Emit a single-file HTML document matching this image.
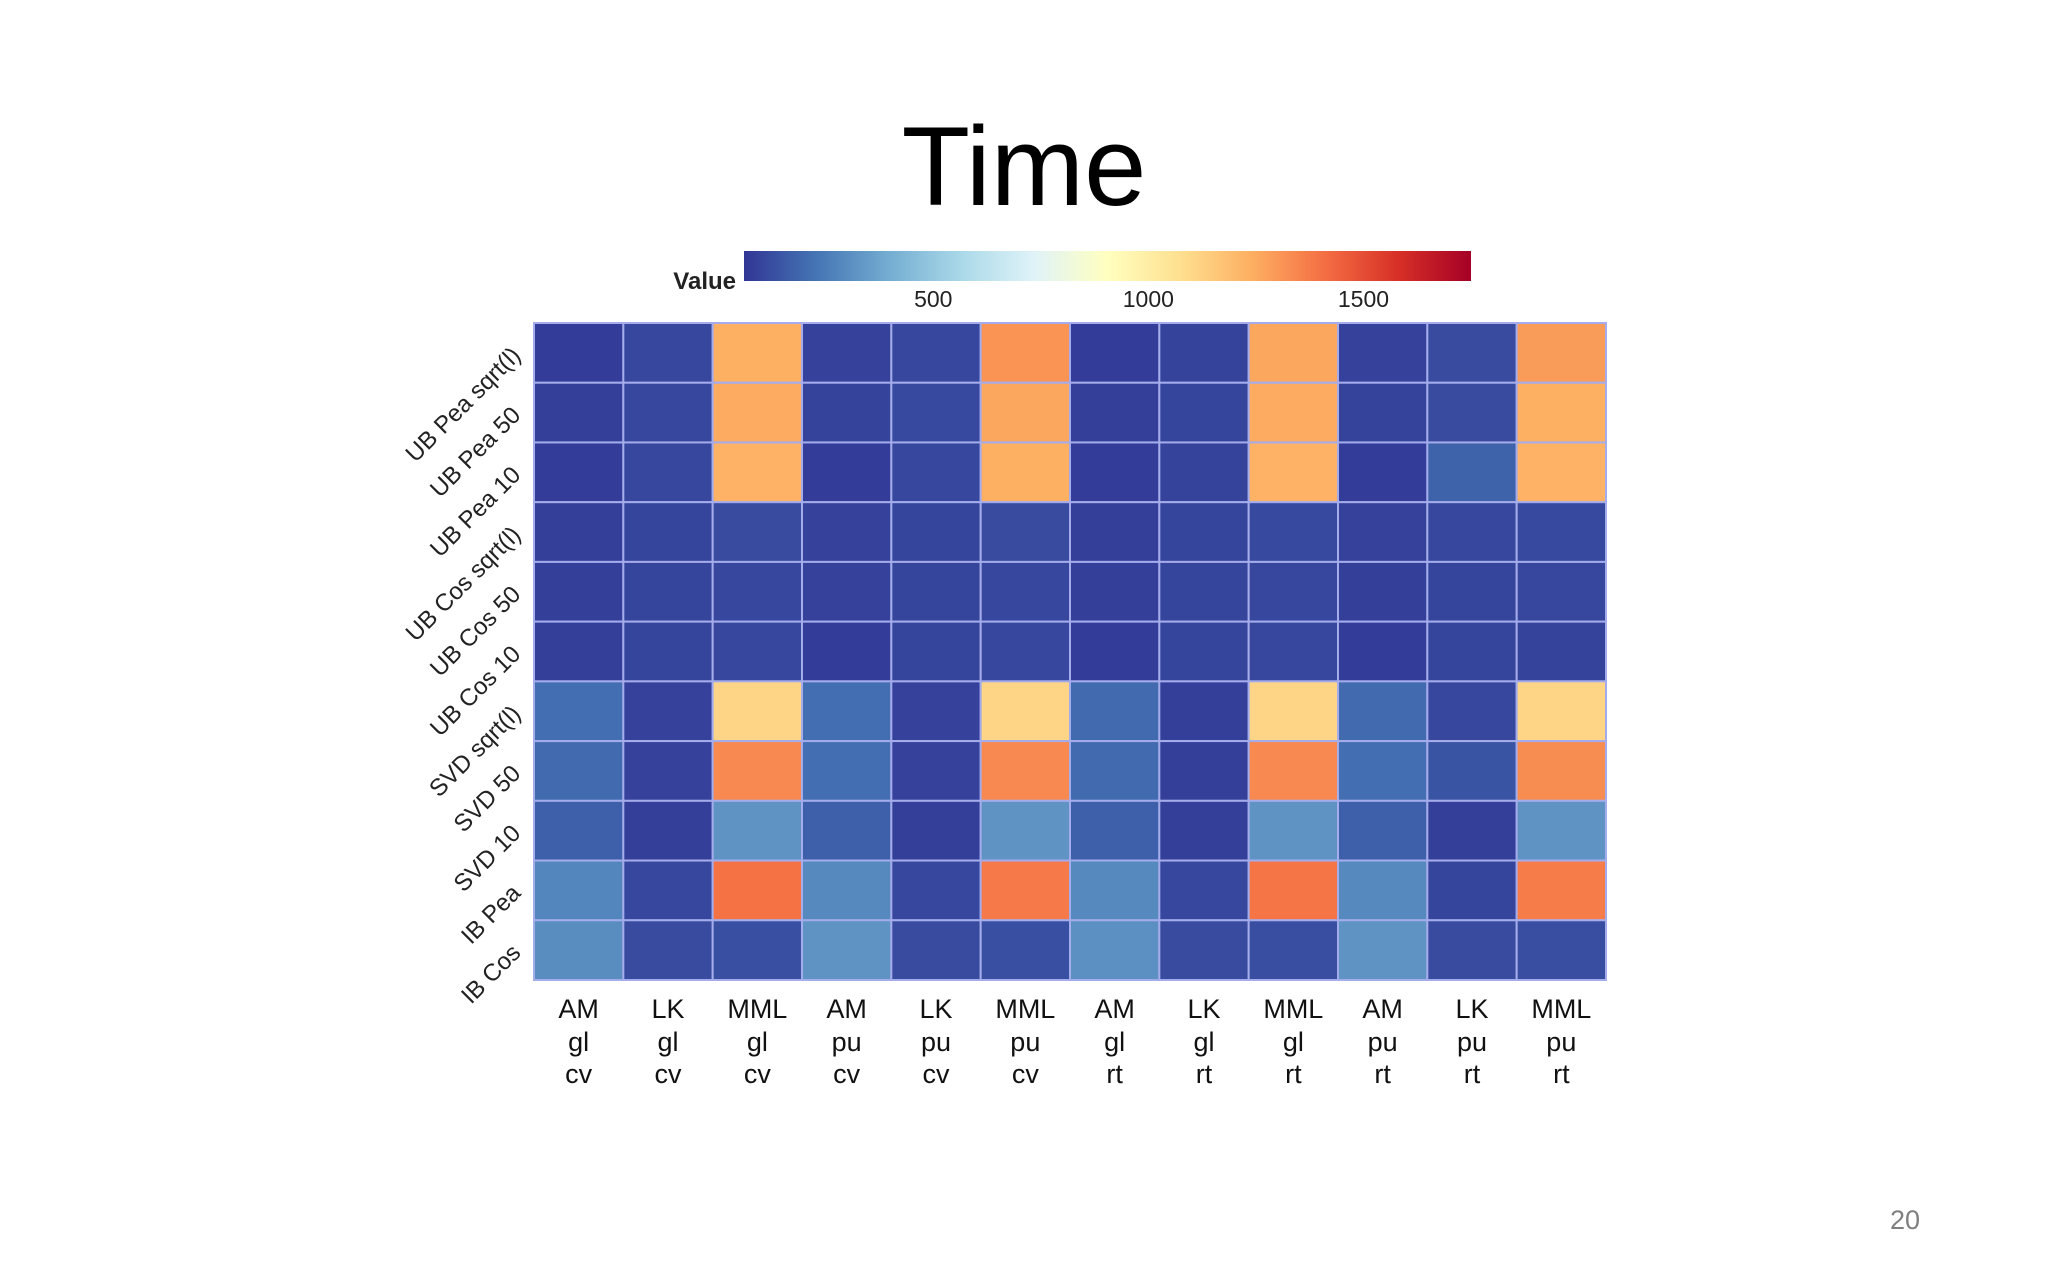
<!DOCTYPE html>
<html><head><meta charset="utf-8"><style>
html,body{margin:0;padding:0;background:#fff;}
body{width:2048px;height:1280px;overflow:hidden;position:relative;font-family:"Liberation Sans",sans-serif;}
</style></head><body>
<div style="position:absolute;left:0;width:2048px;top:100px;text-align:center;font-size:112px;color:#000;line-height:1.2;">Time</div>
<div style="position:absolute;left:1890px;top:1205px;font-size:27px;color:#7f7f7f;">20</div>
<svg id="chart" width="2048" height="1280" style="position:absolute;left:0;top:0;">
<defs><linearGradient id="cbgrad" x1="0" x2="1" y1="0" y2="0"></linearGradient></defs>
<g id="cb"></g><g id="cells"></g><g id="labels"></g>
</svg>
<script>
const rowLabels = ["UB Pea sqrt(l)","UB Pea 50","UB Pea 10","UB Cos sqrt(l)","UB Cos 50","UB Cos 10","SVD  sqrt(l)","SVD  50","SVD  10","IB Pea","IB Cos"];
const colLine1 = ["AM","LK","MML","AM","LK","MML","AM","LK","MML","AM","LK","MML"];
const colLine2 = ["gl","gl","gl","pu","pu","pu","gl","gl","gl","pu","pu","pu"];
const colLine3 = ["cv","cv","cv","cv","cv","cv","rt","rt","rt","rt","rt","rt"];
const row0 = [80,105,1240,90,105,1310,80,95,1260,90,115,1290];
const row1 = [85,105,1250,95,110,1260,85,100,1250,95,115,1240];
const row2 = [80,105,1230,80,105,1240,80,95,1230,80,180,1230];
const row3 = [85,100,115,90,100,115,85,100,110,90,105,110];
const row4 = [85,100,105,90,100,105,85,100,105,85,100,105];
const row5 = [85,100,105,80,100,105,80,100,105,80,100,95];
const row6 = [210,90,1110,210,90,1110,200,85,1110,200,105,1110];
const row7 = [200,90,1340,210,90,1340,200,85,1340,210,140,1330];
const row8 = [170,85,320,170,85,320,170,85,320,170,85,320];
const row9 = [280,105,1400,290,105,1380,290,105,1390,290,100,1370];
const row10 = [300,115,130,320,115,130,310,115,125,320,115,125];
const values = [row0,row1,row2,row3,row4,row5,row6,row7,row8,row9,row10];
const cbTicks = [500,1000,1500];
const vmin = 60, vmax = 1750;

const stops = ["#313695","#4575b4","#74add1","#abd9e9","#e0f3f8","#ffffbf","#fee090","#fdae61","#f46d43","#d73027","#a50026"];
function hex(h){return [1,3,5].map(i=>parseInt(h.substr(i,2),16));}
function color(v){
  let t=Math.max(0,Math.min(1,(v-vmin)/(vmax-vmin)))*(stops.length-1);
  let i=Math.min(Math.floor(t),stops.length-2),f=t-i;
  let a=hex(stops[i]),b=hex(stops[i+1]);
  return "rgb("+a.map((x,k)=>Math.round(x+(b[k]-x)*f)).join(",")+")";
}
const NS="http://www.w3.org/2000/svg";
function mk(tag,attrs,parent){const e=document.createElementNS(NS,tag);for(const k in attrs)e.setAttribute(k,attrs[k]);parent.appendChild(e);return e;}
const X0=534,X1=1606,Y0=323,Y1=980;
const cw=(X1-X0)/colLine1.length, ch=(Y1-Y0)/rowLabels.length;
const xPos=c=>X0+c*cw, yPos=r=>Y0+r*ch;
const CB0=744,CB1=1471;
const cbX=v=>CB0+(v-vmin)/(vmax-vmin)*(CB1-CB0);
const grad=document.getElementById("cbgrad");
stops.forEach((s,i)=>mk("stop",{offset:(i/(stops.length-1)),"stop-color":s},grad));
const cb=document.getElementById("cb");
const bar=mk("rect",{x:CB0,y:251,width:CB1-CB0,height:30,fill:"url(#cbgrad)"},cb);


const vt=mk("text",{x:736,y:289,"text-anchor":"end","font-size":24,"font-weight":"bold",fill:"#222"},cb);
vt.textContent="Value";


cbTicks.forEach(t=>{
  const e=mk("text",{x:cbX(t),y:307,"text-anchor":"middle","font-size":23,fill:"#222"},cb);
  e.textContent=t;
  
  
});
const cg=document.getElementById("cells");
values.forEach((row,r)=>row.forEach((v,c)=>{
  const e=mk("rect",{x:xPos(c),y:yPos(r),width:cw,height:ch,fill:color(v),stroke:"#a4aceb","stroke-width":2},cg);
  
  
}));
const lg=document.getElementById("labels");
rowLabels.forEach((l,r)=>{
  const x=522,y=yPos(r)+ch/2+4;
  const e=mk("text",{x:x,y:y,"text-anchor":"end","font-size":24,fill:"#222",transform:"rotate(-45 "+x+" "+y+")","xml:space":"preserve"},lg);
  e.textContent=l;
  
  
});
colLine1.forEach((l,c)=>{
  const cx=xPos(c)+cw/2;
  [[l,1018],[colLine2[c],1051],[colLine3[c],1083]].forEach(([s,y])=>{
    const e=mk("text",{x:cx,y:y,"text-anchor":"middle","font-size":27,fill:"#111"},lg);
    e.textContent=s;
    
    
  });
});
</script>
</body></html>
